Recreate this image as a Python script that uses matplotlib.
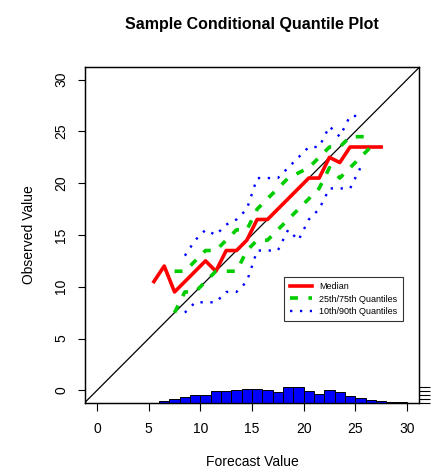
import numpy as np
import matplotlib.pyplot as plt

plt.rcParams['font.family'] = ['Liberation Sans', 'DejaVu Sans']

# quantile curves (bin midpoints of forecast value)
x_med = np.arange(5.5, 28.0, 1.0)
median = [10.5, 12, 9.5, 10.5, 11.5, 12.5, 11.5, 13.5, 13.5, 14.5, 16.5, 16.5,
          17.5, 18.5, 19.5, 20.5, 20.5, 22.5, 22, 23.5, 23.5, 23.5, 23.5]

x_q = np.arange(7.5, 27.0, 1.0)
q25 = [7.5, 9.5, 9.5, 10.5, 11.5, 11.5, 11.5, 13.5, 14.5, 14.5,
       15.5, 16.5, 17.5, 18.5, 19.5, 21.5, 20.5, 21.5, 22.5, 23.5]
q75 = [11.5, 11.5, 12.5, 13.5, 13.5, 14.5, 15.5, 15.5, 17.5, 18.5,
       19.5, 20.5, 21, 21.5, 22.5, 23.5, 23.5, 24.5, 24.5, 24.5]

x_q10 = np.arange(8.5, 26.0, 1.0)
q10 = [7.5, 8.5, 8.5, 8.5, 9.5, 9.5, 10.5, 13.5, 13.5, 13.5,
       15.5, 14.5, 16.5, 17.5, 19.5, 19.5, 19.5, 21.5]
q90 = [13, 14.5, 15.5, 15, 16, 16.5, 17.5, 20.5, 20.5, 20.5,
       21.5, 22.5, 23.5, 23.5, 25.5, 24.5, 26.5, 26.5]

# histogram of forecasts (bins of width 1 from 0 to 30)
bin_left = np.arange(0, 30)
counts = [0, 0, 0, 0, 1, 1, 7, 17, 27, 37, 37, 57, 57, 63, 67, 67, 62, 52,
          77, 77, 57, 43, 62, 52, 32, 25, 12, 7, 2, 2]

fig = plt.figure(figsize=(4.4, 4.72), dpi=100)
ax = fig.add_axes([84.7 / 440, 69.3 / 472, 334.6 / 440, 335.4 / 472])

ax.axline((0, 0), slope=1, color='black', lw=0.9)
ax.plot(x_med, median, color='#FF0000', lw=2.6, solid_joinstyle='round',
        label='Median')
ax.plot(x_q, q25, color='#00CD00', lw=2.6, dashes=(2.2, 2.9),
        label='25th/75th Quantiles')
ax.plot(x_q, q75, color='#00CD00', lw=2.6, dashes=(2.2, 2.9))
ax.plot(x_q10, q10, color='#0000FF', lw=1.7, dashes=(1, 3.2),
        label='10th/90th Quantiles')
ax.plot(x_q10, q90, color='#0000FF', lw=1.7, dashes=(1, 3.2))

ax.set_xlim(-1.2, 31.2)
ax.set_ylim(-1.2, 31.2)
ax.set_xticks(range(0, 31, 5))
ax.set_yticks(range(0, 31, 5))
ax.tick_params(axis='x', length=6, width=0.8, labelsize=10, pad=8)
ax.tick_params(axis='y', length=5.3, width=0.8, labelsize=10, pad=6.5,
               labelrotation=90)
for lab in ax.get_yticklabels():
    lab.set_va('center')

leg = ax.legend(loc='upper left', bbox_to_anchor=(0.596, 0.375), fontsize=6.5,
                frameon=True, fancybox=False, edgecolor='black',
                handlelength=2.5, labelspacing=0.35, borderpad=0.6,
                handletextpad=0.8, borderaxespad=0)
leg.get_frame().set_linewidth(0.8)

# histogram on a hidden secondary scale
ax2 = ax.twinx()
ax2.bar(bin_left + 0.5, counts, width=1, color='#0000FF', edgecolor='black',
        linewidth=0.7)
ax2.set_ylim(0, 1677)
ax2.set_yticks([0, 20, 40, 60, 80])
ax2.set_yticklabels([])
ax2.tick_params(axis='y', length=8, width=0.8)
ax.set_zorder(ax2.get_zorder() + 1)
ax.patch.set_visible(False)

for a in (ax, ax2):
    for s in a.spines.values():
        s.set_linewidth(0.9)

fig.text(252 / 440, 1 - 24 / 472, 'Sample Conditional Quantile Plot',
         ha='center', va='center', fontsize=11.5, fontweight='bold')
fig.text(252 / 440, 1 - 462 / 472, 'Forecast Value', ha='center',
         va='center', fontsize=10)
fig.text(29 / 440, 1 - 235 / 472, 'Observed Value', ha='center',
         va='center', fontsize=10, rotation=90)

fig.savefig('out.png', dpi=100)
